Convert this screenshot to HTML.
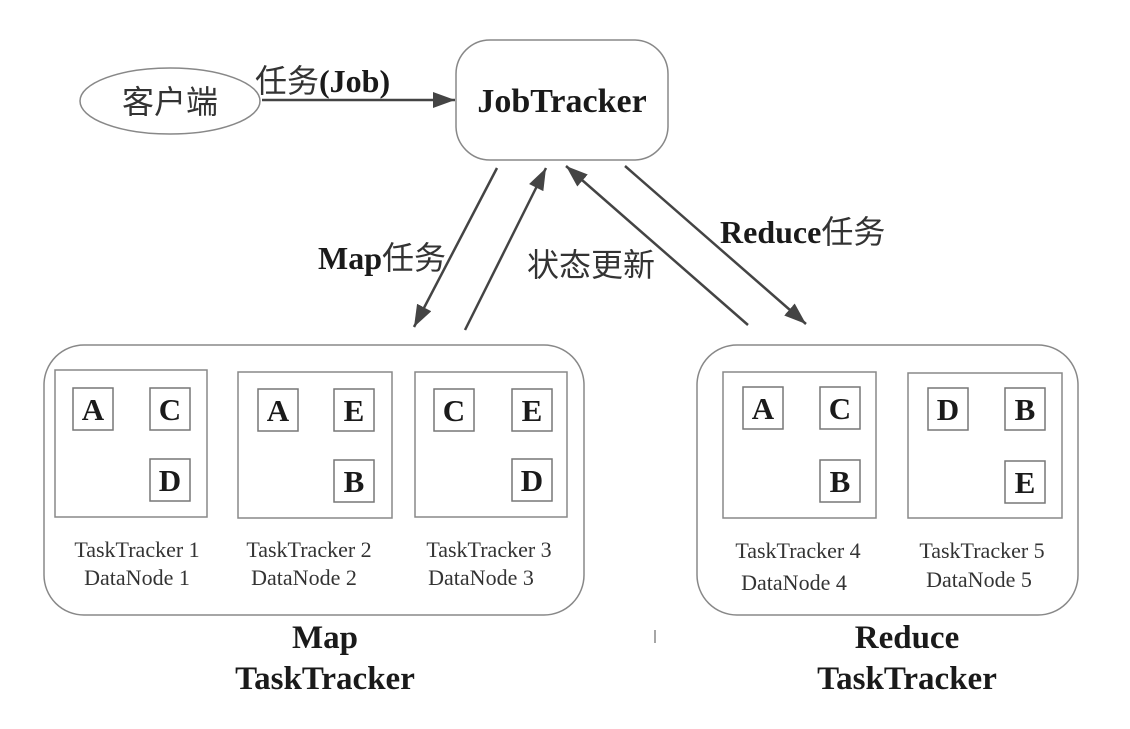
<!DOCTYPE html>
<html><head><meta charset="utf-8"><style>
html,body{margin:0;padding:0;background:#fff;}
svg{display:block;}
.b{font-family:"Liberation Serif","Noto Serif CJK SC",serif;font-weight:bold;fill:#1a1a1a;}
.n{font-family:"Liberation Serif","Noto Serif CJK SC",serif;fill:#333;}
.c{font-family:"Liberation Sans","Noto Sans CJK SC",sans-serif;fill:#333;}
</style></head><body>
<svg width="1130" height="729" viewBox="0 0 1130 729" xmlns="http://www.w3.org/2000/svg">
<defs>
<marker id="ah" markerWidth="24" markerHeight="20" refX="22" refY="8" orient="auto" markerUnits="userSpaceOnUse">
<path d="M0,0 L22,8 L0,16 z" fill="#444"/></marker>
</defs>
<g stroke="#888" stroke-width="1.5" fill="none">
<ellipse cx="170" cy="101" rx="90" ry="33"/>
<rect x="456" y="40" width="212" height="120" rx="34"/>
<rect x="44" y="345" width="540" height="270" rx="40"/>
<rect x="697" y="345" width="381" height="270" rx="40"/>
<rect x="55" y="370" width="152" height="147"/>
<rect x="238" y="372" width="154" height="146"/>
<rect x="415" y="372" width="152" height="145"/>
<rect x="723" y="372" width="153" height="146"/>
<rect x="908" y="373" width="154" height="145"/>
</g>
<g stroke="#777" stroke-width="1.5" fill="none">
<rect x="73" y="388" width="40" height="42"/><rect x="150" y="388" width="40" height="42"/><rect x="150" y="459" width="40" height="42"/>
<rect x="258" y="389" width="40" height="42"/><rect x="334" y="389" width="40" height="42"/><rect x="334" y="460" width="40" height="42"/>
<rect x="434" y="389" width="40" height="42"/><rect x="512" y="389" width="40" height="42"/><rect x="512" y="459" width="40" height="42"/>
<rect x="743" y="387" width="40" height="42"/><rect x="820" y="387" width="40" height="42"/><rect x="820" y="460" width="40" height="42"/>
<rect x="928" y="388" width="40" height="42"/><rect x="1005" y="388" width="40" height="42"/><rect x="1005" y="461" width="40" height="42"/>
</g>
<g class="b" font-size="31" text-anchor="middle">
<text x="93" y="420">A</text><text x="170" y="420">C</text><text x="170" y="491">D</text>
<text x="278" y="421">A</text><text x="354" y="421">E</text><text x="354" y="492">B</text>
<text x="454" y="421">C</text><text x="532" y="421">E</text><text x="532" y="491">D</text>
<text x="763" y="419">A</text><text x="840" y="419">C</text><text x="840" y="492">B</text>
<text x="948" y="420">D</text><text x="1025" y="420">B</text><text x="1025" y="493">E</text>
</g>
<g class="n" font-size="22" text-anchor="middle">
<text x="137" y="557">TaskTracker 1</text><text x="137" y="585">DataNode 1</text>
<text x="309" y="557">TaskTracker 2</text><text x="304" y="585">DataNode 2</text>
<text x="489" y="557">TaskTracker 3</text><text x="481" y="585">DataNode 3</text>
<text x="798" y="558">TaskTracker 4</text><text x="794" y="590">DataNode 4</text>
<text x="982" y="558">TaskTracker 5</text><text x="979" y="587">DataNode 5</text>
</g>
<g stroke="#444" stroke-width="2.5" fill="none">
<line x1="262" y1="100" x2="455" y2="100" marker-end="url(#ah)"/>
<line x1="497" y1="168" x2="414" y2="327" marker-end="url(#ah)"/>
<line x1="465" y1="330" x2="546" y2="168" marker-end="url(#ah)"/>
<line x1="748" y1="325" x2="566" y2="166" marker-end="url(#ah)"/>
<line x1="625" y1="166" x2="806" y2="324" marker-end="url(#ah)"/>
</g>
<text class="c" x="170" y="113" font-size="32" text-anchor="middle">客户端</text>
<text class="b" x="562" y="112" font-size="34" text-anchor="middle">JobTracker</text>
<text class="b" x="255" y="92" font-size="32"><tspan class="c" style="font-weight:normal">任务</tspan>(Job)</text>
<text class="b" x="318" y="269" font-size="32">Map<tspan class="c" style="font-weight:normal">任务</tspan></text>
<text class="c" x="527" y="276" font-size="32">状态更新</text>
<text class="b" x="720" y="243" font-size="32">Reduce<tspan class="c" style="font-weight:normal">任务</tspan></text>
<g class="b" font-size="33" text-anchor="middle">
<text x="325" y="648">Map</text><text x="325" y="689">TaskTracker</text>
<text x="907" y="648">Reduce</text><text x="907" y="689">TaskTracker</text>
</g>
<line x1="655" y1="630" x2="655" y2="643" stroke="#888" stroke-width="1.5"/>
</svg>
</body></html>
